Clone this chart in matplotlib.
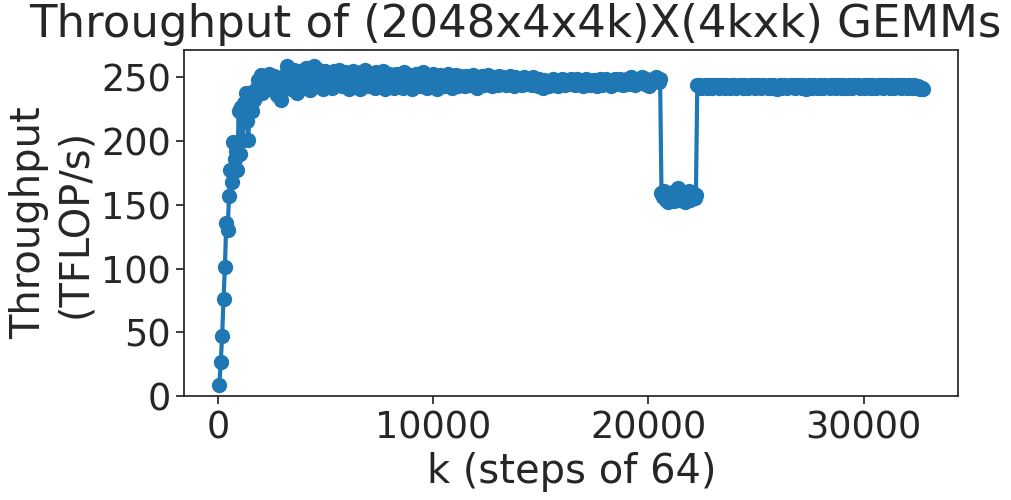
import numpy as np
import matplotlib
matplotlib.use("Agg")
import matplotlib.pyplot as plt
from matplotlib.ticker import MultipleLocator
import seaborn as sns

# k values: 64, 128, ..., 32768 (steps of 64)
k_steps = np.arange(1, 513) * 64

# measured throughput (TFLOP/s), 16 points per row
ramp = [
    9, 27, 47, 76, 101, 136, 130, 157, 177, 168, 199, 186, 192, 177, 224, 190,
    227, 201, 230, 238, 216, 201, 228, 238, 224, 232, 240, 236, 248, 242, 252, 238,
    245, 250, 241, 247, 253, 244, 249, 240, 251, 246, 236, 248, 243, 232, 250, 245,
]
plateau = [
    252, 259, 247, 254, 241, 250, 256, 244, 238, 251, 255, 246, 253, 242, 249, 257,
    245, 252, 240, 254, 248, 259, 251, 243, 256, 247, 253, 241, 250, 255, 244, 249,
    253, 246, 242, 255, 249, 244, 252, 256, 247, 243, 251, 254, 245, 250, 241, 253,
    248, 255, 243, 250, 246, 252, 241, 254, 249, 244, 256, 247, 251, 243, 253, 245,
    250, 242, 254, 247, 252, 244, 249, 255, 241, 251, 246, 253, 243, 250, 248, 242,
    253, 247, 244, 251, 249, 242, 254, 246, 250, 243, 252, 248, 241, 250, 245, 253,
    247, 251, 243, 249, 254, 245, 250, 242, 252, 246, 248, 253, 244, 250, 241, 249,
    252, 245, 248, 243, 251, 247, 253, 244, 249, 242, 250, 246, 252, 243, 248, 251,
    245, 249, 243, 251, 247, 250, 244, 248, 252, 245, 249, 242, 250, 246, 248, 251,
    244, 249, 247, 252, 245, 248, 243, 250, 246, 249, 244, 251, 247, 245, 250, 248,
    244, 249, 246, 251, 245, 248, 243, 250, 247, 249, 245, 248, 244, 250, 246, 248,
    245, 249, 247, 244, 250, 246, 248, 243, 249, 245, 247, 242, 248, 244, 246, 243,
    247, 245, 249, 244, 248, 246, 243, 248, 245, 249, 246, 244, 248, 245, 247, 249,
    246, 248, 244, 247, 249, 245, 248, 246, 243, 247, 249, 245, 248, 244, 247, 246,
    248, 245, 243, 247, 249, 246, 244, 248, 246, 249, 245, 247, 243, 248, 246, 249,
    246, 248, 245, 249, 247, 244, 248, 246, 249, 245, 247, 250, 246, 248, 244, 249,
    247, 249, 246, 250, 248, 245, 249, 247, 243, 248, 246, 249, 247, 250, 248, 246,
    249,
]
dip = [
    159, 156, 161, 154, 158, 152, 157, 155, 160, 153, 158, 156, 163, 154, 157,
    160, 155, 152, 158, 156, 161, 154, 157, 159, 155, 158,
]
recovery = [
    244, 243, 244, 242, 243,
    243, 244, 242, 243, 244, 243, 242, 244, 243, 243, 244, 242, 243, 244, 243, 242,
    244, 243, 243, 242, 244, 243, 244, 242, 243, 243, 244, 243, 242, 244, 243, 243,
    242, 244, 243, 243, 244, 242, 243, 244, 243, 242, 243, 244, 243, 243, 242, 244,
    243, 242, 244, 243, 243, 241, 243, 244, 242, 243, 244, 243, 242, 243, 244, 243,
    243, 244, 242, 243, 243, 244, 243, 242, 244, 243, 241, 243, 244, 243, 242, 243,
    244, 243, 243, 242, 244, 243, 242, 243, 244, 243, 243, 242, 244, 243, 243, 244,
    242, 243, 244, 243, 242, 244, 243, 243, 242, 244, 243, 242, 243, 244, 243, 243,
    244, 242, 243, 243, 244, 242, 243, 244, 243, 242, 244, 243, 243, 242, 244, 243,
    243, 244, 242, 243, 244, 243, 243, 242, 244, 243, 242, 244, 243, 243, 244, 242,
    243, 244, 243, 242, 243, 244, 243, 242, 244, 243, 242, 243, 242, 241, 242, 241,
]
throughput = ramp + plateau + dip + recovery

sns.set_theme(style="ticks", font_scale=2.4)

fig = plt.figure(figsize=(10.12, 5), dpi=100)
ax = fig.add_axes([0.182, 0.208, 0.765, 0.692])
ax.plot(k_steps, throughput, marker="o", color="tab:blue", linewidth=3, markersize=10)
ax.set_ylim(bottom=0)
ax.yaxis.set_major_locator(MultipleLocator(50))
fig.suptitle("Throughput of (2048x4x4k)X(4kxk) GEMMs", x=0.509, y=0.994, va="top",
             fontsize=32.4)
ax.set_xlabel("k (steps of 64)")
ax.set_ylabel("Throughput\n(TFLOP/s)")

fig.savefig("out.png", dpi=100)
